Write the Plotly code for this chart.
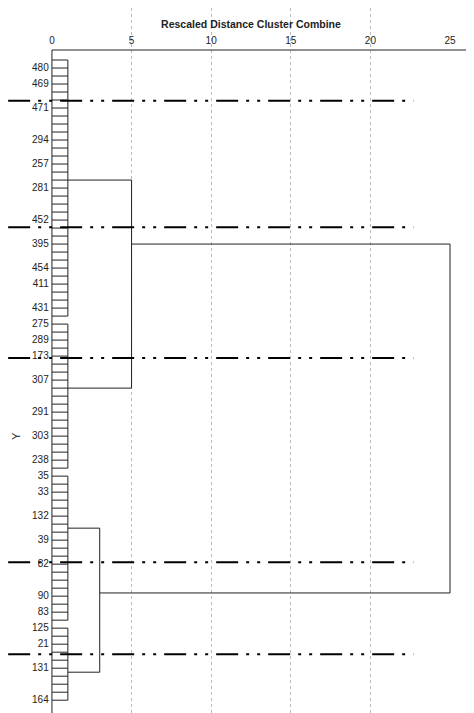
import plotly.graph_objects as go

# leaf groups (row index ranges) and labels
groups = [(0, 32), (33, 51), (52, 70), (71, 80)]
label_text = ["480","469","471","294","257","281","452","395","454","411","431","275","289","173","307",
              "291","303","238","35","33","132","39","82","90","83","125","21","131","164"]
label_rows = [1,3,6,10,13,16,20,23,26,28,31,33,35,37,40,44,47,50,52,54,57,60,63,67,69,71,73,76,80]
# merges: (x_join, y_a, y_b, y_out)
merges = [(5, 15, 41, 23), (3, 58.5, 76.5, 66.6), (25, 23, 66.6, None)]
leaf_x = 1
cut_rows = [5.1, 20.9, 37.25, 62.75, 74.25]
cut_x = [-2.75, 22.7]
xticks = [0, 5, 10, 15, 20, 25]

fig = go.Figure()
L = dict(color="#222", width=1)
xs, ys = [], []
for a, b in groups:
    for k in range(a, b + 1):
        xs += [0, leaf_x, None]; ys += [k, k, None]
    xs += [leaf_x, leaf_x, None]; ys += [a, b, None]
for xj, ya, yb, yo in merges:
    xa = leaf_x if xj != 25 else 5
    xb = leaf_x if xj != 25 else 3
    xs += [xa, xj, xj, xb, None]; ys += [ya, ya, yb, yb, None]
# axis lines
xs += [0, 0, None, 0, 26.4, None]; ys += [-1.25, 84, None, -1.25, -1.25, None]
fig.add_trace(go.Scatter(x=xs, y=ys, mode="lines", line=L, hoverinfo="skip"))
for r in cut_rows:
    fig.add_trace(go.Scatter(x=cut_x, y=[r, r], mode="lines",
                             line=dict(color="black", width=2, dash="22px,8px,3px,8px,3px,8px")))
fig.add_trace(go.Scatter(x=[-0.2]*len(label_rows), y=label_rows, mode="text", text=label_text,
                         textposition="middle left", textfont=dict(size=10, color="#222", family="Liberation Sans")))
fig.add_trace(go.Scatter(x=xticks, y=[-2.3]*len(xticks), mode="text", text=[str(t) for t in xticks],
                         textfont=dict(size=10, color="#222", family="Liberation Sans")))
fig.add_trace(go.Scatter(x=[12.5], y=[-4.3], mode="text", text=["<b>Rescaled Distance Cluster Combine</b>"],
                         textfont=dict(size=10.5, color="#222", family="Liberation Sans")))
fig.add_annotation(x=-2.76, y=47, text="Y", textangle=-90, showarrow=False, xanchor="left",
                   font=dict(size=11, color="#222", family="Liberation Sans"))

fig.update_layout(width=474, height=713, margin=dict(l=0, r=10, t=0, b=0), showlegend=False,
                  plot_bgcolor="white", paper_bgcolor="white",
                  xaxis=dict(range=[-2.76, 26.38], tickvals=xticks[1:-1], showticklabels=False,
                             showgrid=True, gridcolor="#bbb", griddash="dot", zeroline=False),
                  yaxis=dict(range=[82.6, -6.5], showgrid=False, showticklabels=False, zeroline=False))
fig.write_html("out.html")
